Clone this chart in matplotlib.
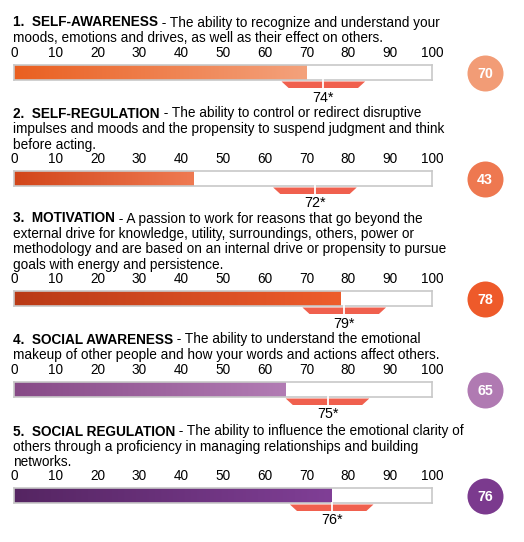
import matplotlib
matplotlib.use("Agg")
import matplotlib.pyplot as plt
import numpy as np
from matplotlib.colors import LinearSegmentedColormap
from matplotlib.patches import Polygon
import matplotlib.transforms as mtransforms

plt.rcParams['font.family'] = ['Liberation Sans', 'DejaVu Sans']

# --- data --------------------------------------------------------------------
headings = ["1.  SELF-AWARENESS", "2.  SELF-REGULATION", "3.  MOTIVATION",
            "4.  SOCIAL AWARENESS", "5.  SOCIAL REGULATION"]
descriptions = [
    [" - The ability to recognize and understand your",
     "moods, emotions and drives, as well as their effect on others."],
    [" - The ability to control or redirect disruptive",
     "impulses and moods and the propensity to suspend judgment and think",
     "before acting."],
    [" - A passion to work for reasons that go beyond the",
     "external drive for knowledge, utility, surroundings, others, power or",
     "methodology and are based on an internal drive or propensity to pursue",
     "goals with energy and persistence."],
    [" - The ability to understand the emotional",
     "makeup of other people and how your words and actions affect others."],
    [" - The ability to influence the emotional clarity of",
     "others through a proficiency in managing relationships and building",
     "networks."],
]
scores = [70, 43, 78, 65, 76]
benchmarks = [74, 72, 79, 75, 76]
ticks = list(range(0, 101, 10))

# --- style -------------------------------------------------------------------
grad_left = ["#EA5F20", "#D2461A", "#B93A16", "#874A87", "#552562"]
grad_right = ["#F4A27C", "#EF7A52", "#EE5D2C", "#B27CB4", "#803F96"]
circle_colors = ["#F29C76", "#EE7850", "#EE5A2A", "#B07AB2", "#7B3A8E"]
bench_color = "#F0604E"

W, H = 524, 542
fig = plt.figure(figsize=(W / 100, H / 100), dpi=100)
renderer = fig.canvas.get_renderer()

title_y = [21, 112, 217, 338, 430]   # first line centre, px from top
bar_top = [65, 171, 291, 382, 488]
line_h = 15.5
bar_h = 15
x0, x1 = 14, 432
fs = 9.8


def py(y):
    return 1 - y / H


for i in range(5):
    # heading: bold part then normal text
    ty = title_y[i]
    t = fig.text(13 / W, py(ty), headings[i], fontsize=fs, fontweight="bold",
                 va="center_baseline", ha="left")
    bb = t.get_window_extent(renderer)
    fig.text(bb.x1 / W, py(ty), descriptions[i][0], fontsize=fs,
             va="center_baseline", ha="left")
    for k, line in enumerate(descriptions[i][1:], start=1):
        fig.text(13 / W, py(ty + k * line_h), line, fontsize=fs,
                 va="center_baseline", ha="left")

    # bar axes
    top = bar_top[i]
    ax = fig.add_axes([x0 / W, py(top + bar_h), (x1 - x0) / W, bar_h / H])
    ax.set_xlim(0, 100)
    ax.set_ylim(0, 1)
    ax.set_yticks([])
    ax.xaxis.tick_top()
    ax.set_xticks(ticks)
    ax.tick_params(axis="x", length=0, pad=3.5, labelsize=fs)
    for s in ax.spines.values():
        s.set_color("#C8C8C8")
        s.set_linewidth(1.2)

    cmap = LinearSegmentedColormap.from_list("g%d" % i, [grad_left[i], grad_right[i]])
    bar = ax.barh(0.5, scores[i], height=1.0, left=0, color="none",
                  edgecolor="none")[0]
    img = ax.imshow(np.linspace(0, 1, 256)[None, :], cmap=cmap, aspect="auto",
                    extent=(0, scores[i], 0, 1), interpolation="bilinear",
                    zorder=1)
    img.set_clip_path(bar)
    ax.set_xlim(0, 100)
    ax.set_ylim(0, 1)

    # benchmark trapezoid below the bar
    b = benchmarks[i]
    trans = mtransforms.blended_transform_factory(ax.transData, ax.transAxes)
    y_a = -1.5 / bar_h
    y_b = -8 / bar_h
    trap = Polygon([(b - 10, y_a), (b + 10, y_a), (b + 8.3, y_b), (b - 8.3, y_b)],
                   closed=True, facecolor=bench_color, edgecolor="none",
                   transform=trans, clip_on=False)
    ax.add_patch(trap)
    ax.plot([b, b], [0, y_b], color="white", lw=1.3, transform=trans,
            clip_on=False, zorder=5)
    ax.text(b, -16 / bar_h, "%d*" % b, transform=trans, ha="center",
            va="center_baseline", fontsize=fs + 0.5)

    # score circle
    cx = (485 - x0) / (x1 - x0)
    ax.scatter([cx], [0.5], s=(36 * 0.72) ** 2,
               color=circle_colors[i], transform=ax.transAxes, clip_on=False,
               zorder=5, linewidths=0)
    ax.text(cx, 0.5, str(scores[i]), transform=ax.transAxes,
            ha="center", va="center_baseline", color="white", fontweight="bold",
            fontsize=fs + 0.5, zorder=6)

fig.savefig("out.png", dpi=100)
